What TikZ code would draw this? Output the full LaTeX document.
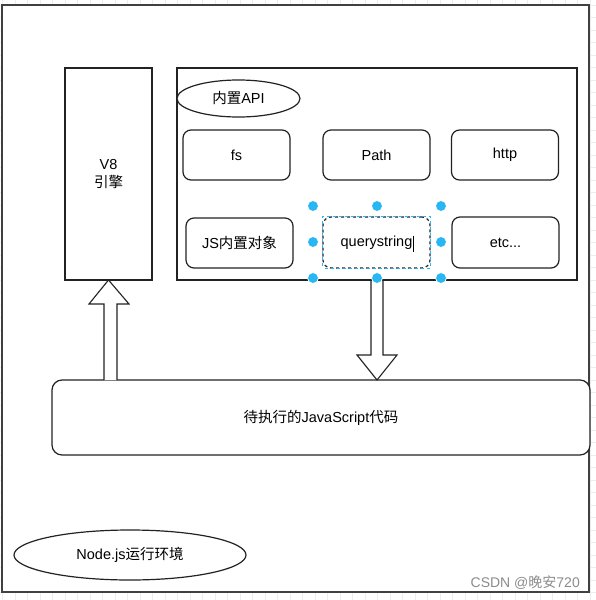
\documentclass[tikz,border=0pt]{standalone}
\usepackage{fontspec}
\setmainfont{Liberation Sans}
\newfontfamily\cjk{Noto Sans CJK SC}
\usetikzlibrary{shapes.geometric}
\definecolor{selblue}{HTML}{29B6F2}
\definecolor{gridc}{HTML}{EDEDED}
\definecolor{linec}{HTML}{222222}
\begin{document}
\begin{tikzpicture}[x=1pt,y=-1pt,
  box/.style={draw=linec, line width=1.2pt, fill=white, inner sep=0pt, align=center},
  rbox/.style={box, rounded corners=8pt, minimum width=107pt, minimum height=50pt},
  lbl/.style={font=\fontsize{14.5}{18}\selectfont},
  oval/.style={ellipse, draw=linec, line width=1.2pt, fill=white, inner sep=0pt},
  handle/.style={circle, fill=selblue, draw=white, line width=0.8pt, minimum size=11pt, inner sep=0pt},
  blockarrow/.style={draw=linec, line width=1.1pt, fill=white, line join=miter}]
\useasboundingbox (0,0) rectangle (596,600);
\fill[white] (0,0) rectangle (596,600);
\foreach \i in {0,...,47} {\draw[gridc, line width=0.5pt] (2.5+12.5*\i,0) -- (2.5+12.5*\i,600);}
\foreach \i in {0,...,47} {\draw[gridc, line width=0.5pt] (0,5+12.5*\i) -- (596,5+12.5*\i);}
% environment frame
\node[box, draw=black!75, line width=1.6pt, minimum width=587pt, minimum height=587pt] (env) at (295.5,298.5) {};
% V8
\node[box, minimum width=87pt, minimum height=212pt, lbl] (v8) at (108.5,174) {V8\\{\cjk 引擎}};
% API container
\node[box, minimum width=400pt, minimum height=212pt] (api) at (377,174) {};
\node[oval, minimum width=123pt, minimum height=37pt, lbl] (apilbl) at (238.5,98.5) {{\cjk 内置}API};
% modules
\node[rbox, lbl] (fs) at (236.5,155) {fs};
\node[rbox, lbl] (path) at (376.5,155) {Path};
\node[rbox, lbl] (http) at (505,155) {http};
\node[rbox, lbl] (jsobj) at (239.5,243) {JS{\cjk 内置对象}};
\node[rbox, lbl, dashed, minimum height=51pt] (qs) at (376.5,242.5) {querystring};
\draw[selblue, line width=0.8pt, dash pattern=on 3pt off 3pt, dash phase=3pt] (qs.south west) rectangle (qs.north east);
\coordinate (cur) at (413,235.5);
\draw[black, line width=0.9pt] (cur) -- ++(0,16);
\node[rbox, lbl, minimum height=51pt] (etc) at (505.5,242.5) {etc...};
% code box
\node[box, rounded corners=10pt, minimum width=538pt, minimum height=75pt, lbl] (code) at (321,417.5) {{\cjk 待执行的}JavaScript{\cjk 代码}};
% block arrows
\draw[blockarrow] (104,380) -- (104,304) -- (89,304) -- (108.5,280) -- (129,304) -- (117,304) -- (117,380);
\draw[blockarrow] (371,281) -- (371,355) -- (357,355) -- (377,380) -- (397,355) -- (383,355) -- (383,281);
% selection handles
\foreach \p/\n in {{313,206}/h1,{377,206}/h2,{441,206}/h3,{313,242}/h4,{441,242}/h5,{313,278}/h6,{377,278}/h7,{441,278}/h8}
  {\node[handle] (\n) at (\p) {};}
% Node.js env label
\node[oval, minimum width=232pt, minimum height=50pt, lbl] (envlbl) at (130,555) {Node.js{\cjk 运行环境}};
% watermark
\node[anchor=east, text=black!45, font=\fontsize{14}{16}\selectfont, inner sep=0pt] (wm) at (580,582.5) {CSDN @{\cjk 晚安}720};
\end{tikzpicture}
\end{document}
